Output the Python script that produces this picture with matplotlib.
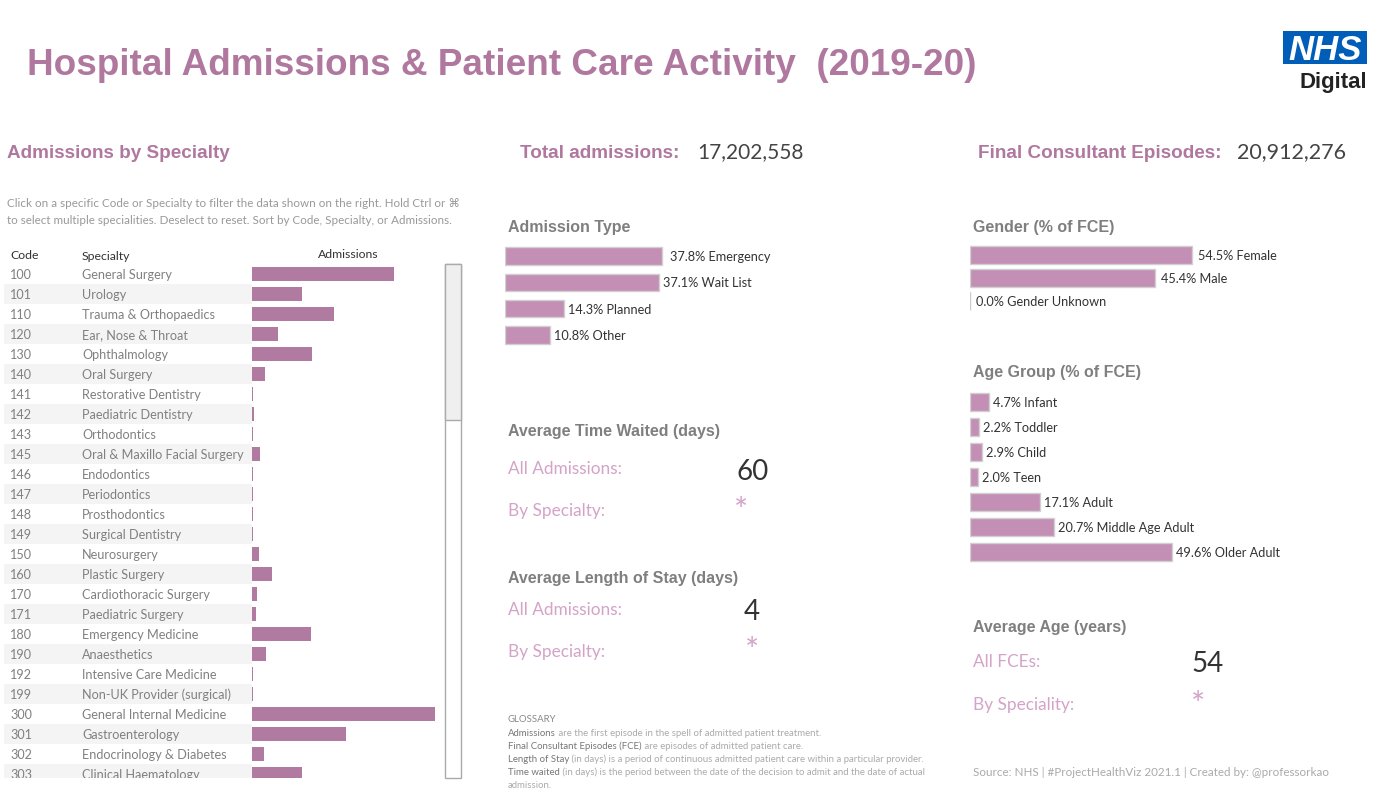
import matplotlib
matplotlib.use("Agg")
import matplotlib.pyplot as plt
from matplotlib.patches import Rectangle

W, H = 1399, 799

# ---------------- data ----------------
spec_codes = ["100", "101", "110", "120", "130", "140", "141", "142", "143", "145",
              "146", "147", "148", "149", "150", "160", "170", "171", "180", "190",
              "192", "199", "300", "301", "302", "303"]
spec_names = ["General Surgery", "Urology", "Trauma & Orthopaedics", "Ear, Nose & Throat",
              "Ophthalmology", "Oral Surgery", "Restorative Dentistry", "Paediatric Dentistry",
              "Orthodontics", "Oral & Maxillo Facial Surgery", "Endodontics", "Periodontics",
              "Prosthodontics", "Surgical Dentistry", "Neurosurgery", "Plastic Surgery",
              "Cardiothoracic Surgery", "Paediatric Surgery", "Emergency Medicine",
              "Anaesthetics", "Intensive Care Medicine", "Non-UK Provider (surgical)",
              "General Internal Medicine", "Gastroenterology", "Endocrinology & Diabetes",
              "Clinical Haematology"]
spec_admissions = [1420000, 500000, 820000, 260000, 600000, 130000, 11000, 20000,
                   10000, 80000, 9000, 10000, 10000, 10000, 70000, 200000,
                   50000, 40000, 590000, 140000, 10000, 9000, 1830000, 940000,
                   120000, 500000]

adm_types = ["Emergency", "Wait List", "Planned", "Other"]
adm_pct = [37.8, 37.1, 14.3, 10.8]

genders = ["Female", "Male", "Gender Unknown"]
gender_pct = [54.5, 45.4, 0.0]

age_groups = ["Infant", "Toddler", "Child", "Teen", "Adult", "Middle Age Adult", "Older Adult"]
age_pct = [4.7, 2.2, 2.9, 2.0, 17.1, 20.7, 49.6]

total_admissions = 17202558
total_fce = 20912276
avg_wait_days = 60
avg_stay_days = 4
avg_age_years = 54

# ---------------- styles ----------------
PINK = "#B0789F"
BAR_L = "#B07AA1"
BAR_R = "#C48FB5"
LIGHT_PINK = "#D4A3C8"
GRAY_H = "#7F7F7F"
TXT = "#808080"
DARK = "#333333"
BODY = "Lato"
HEAD = "Liberation Sans"

fig = plt.figure(figsize=(W / 100, H / 100), dpi=100)
fig.patch.set_facecolor("white")

bg = fig.add_axes([0, 0, 1, 1])
bg.set_xlim(0, W)
bg.set_ylim(H, 0)
bg.axis("off")


def px_axes(x0, y0, x1, y1):
    return fig.add_axes([x0 / W, 1 - y1 / H, (x1 - x0) / W, (y1 - y0) / H])


def T(x, y, s, size, color=DARK, weight="normal", family=BODY, ha="left", va="baseline", **kw):
    return bg.text(x, y, s, fontsize=size, color=color, fontweight=weight,
                   family=family, ha=ha, va=va, **kw)


# ---------------- title & logo ----------------
T(27, 75, "Hospital Admissions & Patient Care Activity  (2019-20)", 26.6, PINK, "bold", HEAD)

bg.add_patch(Rectangle((1283, 31), 84, 33, facecolor="#005EB8", edgecolor="none"))
T(1325, 60, "NHS", 25, "white", "bold", HEAD, ha="center", style="italic")
T(1367, 88, "Digital", 16, "#222222", "bold", HEAD, ha="right")

# ---------------- headers row ----------------
T(7, 158, "Admissions by Specialty", 13.6, PINK, "bold", HEAD)
T(520, 158, "Total admissions:", 13.6, PINK, "bold", HEAD)
T(697, 158, f"{total_admissions:,}", 15, "#444444", "normal", BODY)
T(978, 158, "Final Consultant Episodes:", 13.6, PINK, "bold", HEAD)
T(1237, 158, f"{total_fce:,}", 15.5, "#444444", "normal", BODY)

# ---------------- left table ----------------
T(7, 207, "Click on a specific Code or Specialty to filter the data shown on the right. Hold Ctrl or \u2318",
  8.35, "#999999", family=["Lato", "DejaVu Sans"])
T(7, 224, "to select multiple specialities. Deselect to reset. Sort by Code, Specialty, or Admissions.",
  8.35, "#999999")
T(10, 259, "Code", 8.8, DARK)
T(82, 260, "Specialty", 8.8, DARK)
T(348, 258, "Admissions", 8.8, DARK, ha="center")

n = len(spec_codes)
top, bottom = 264, 778
rows_visible = (bottom - top) / 20.0

tax = px_axes(4, top, 252, bottom)
tax.set_xlim(4, 252)
tax.set_ylim(-0.5 + rows_visible, -0.5)
tax.axis("off")
for i in range(n):
    if i % 2 == 1:
        tax.axhspan(i - 0.5, i + 0.5, color="#F4F4F4", lw=0)
    tax.text(10, i + 0.05, spec_codes[i], fontsize=9.1, color=TXT, family=BODY, va="center",
             clip_on=True)
    tax.text(82, i + 0.05, spec_names[i], fontsize=9.1, color=TXT, family=BODY, va="center",
             clip_on=True)

bax = px_axes(252, top, 440, bottom)
bax.barh(range(n), spec_admissions, height=0.7, color=BAR_L, lw=0)
bax.set_xlim(0, 1880000)
bax.set_ylim(-0.5 + rows_visible, -0.5)
bax.axis("off")

# scrollbar
bg.add_patch(Rectangle((445, 264), 16, 514, facecolor="white", edgecolor="#AAAAAA", lw=1))
bg.add_patch(Rectangle((445, 264), 16, 156, facecolor="#EFEFEF", edgecolor="#AAAAAA", lw=1))

# ---------------- middle column ----------------
T(508, 232, "Admission Type", 11.5, GRAY_H, "bold", HEAD)

aax = px_axes(505, 243, 900, 348)
aax.barh(range(len(adm_types)), adm_pct, height=0.66, color=BAR_R, edgecolor="#D0D0D0", lw=1)
aax.set_xlim(0, 395 / 4.15)
aax.set_ylim(3.5, -0.5)
aax.axis("off")
for i, (v, lab) in enumerate(zip(adm_pct, adm_types)):
    gap = 8 if i == 0 else 4
    aax.annotate(f"{v}% {lab}", xy=(v, i), xytext=(gap, -1), textcoords="offset pixels",
                 va="center", ha="left", fontsize=9.2, color=DARK, family=BODY)

T(508, 436, "Average Time Waited (days)", 11.5, GRAY_H, "bold", HEAD)
T(508, 474, "All Admissions:", 12.4, LIGHT_PINK)
T(736, 480, f"{avg_wait_days}", 20, DARK)
T(508, 516, "By Specialty:", 12.4, LIGHT_PINK)
T(741, 521, "*", 24, LIGHT_PINK, ha="center")

T(508, 583, "Average Length of Stay (days)", 11.5, GRAY_H, "bold", HEAD)
T(508, 615, "All Admissions:", 12.4, LIGHT_PINK)
T(752, 620, f"{avg_stay_days}", 20, DARK, ha="center")
T(508, 657, "By Specialty:", 12.4, LIGHT_PINK)
T(752, 661, "*", 24, LIGHT_PINK, ha="center")

# glossary
gx = 508
T(gx, 722, "GLOSSARY", 6.9, "#888888")
gloss = [("Admissions", " are the first episode in the spell of admitted patient treatment."),
         ("Final Consultant Episodes (FCE)", " are episodes of admitted patient care."),
         ("Length of Stay", " (in days) is a period of continuous admitted patient care within a particular provider."),
         ("Time waited", " (in days) is the period between the date of the decision to admit and the date of actual")]
for k, (b, rest) in enumerate(gloss):
    y = 736 + 13 * k
    t1 = T(gx, y, b, 6.9, "#777777")
    bg.annotate(rest, xy=(1, 0), xycoords=t1, va="bottom", ha="left",
                fontsize=6.9, color="#AAAAAA", family=BODY)
T(gx, 788, "admission.", 6.9, "#AAAAAA")

# ---------------- right column ----------------
T(973, 232, "Gender (% of FCE)", 11.5, GRAY_H, "bold", HEAD)
gax = px_axes(970, 243.5, 1390, 312.5)
gax.barh(range(len(genders)), gender_pct, height=0.74, color=BAR_R, edgecolor="#D0D0D0", lw=1)
gax.set_xlim(0, 420 / 4.07)
gax.set_ylim(2.5, -0.5)
gax.axis("off")
for i, (v, lab) in enumerate(zip(gender_pct, genders)):
    gax.annotate(f"{v:.1f}% {lab}", xy=(v, i), xytext=(6, -1), textcoords="offset pixels",
                 va="center", ha="left", fontsize=9.2, color=DARK, family=BODY)
gax.plot([0.1, 0.1], [1.64, 2.36], color="#CCCCCC", lw=1.2)

T(973, 377, "Age Group (% of FCE)", 11.5, GRAY_H, "bold", HEAD)
ageax = px_axes(970, 389.5, 1390, 564.5)
ageax.barh(range(len(age_groups)), age_pct, height=0.74, color=BAR_R, edgecolor="#D0D0D0", lw=1)
ageax.set_xlim(0, 420 / 4.07)
ageax.set_ylim(6.5, -0.5)
ageax.axis("off")
for i, (v, lab) in enumerate(zip(age_pct, age_groups)):
    ageax.annotate(f"{v}% {lab}", xy=(v, i), xytext=(4, -1), textcoords="offset pixels",
                   va="center", ha="left", fontsize=9.2, color=DARK, family=BODY)

T(973, 632, "Average Age (years)", 11.5, GRAY_H, "bold", HEAD)
T(973, 667, "All FCEs:", 12.4, LIGHT_PINK)
T(1191, 672, f"{avg_age_years}", 20, DARK)
T(973, 710, "By Speciality:", 12.4, LIGHT_PINK)
T(1198, 715, "*", 24, LIGHT_PINK, ha="center")

T(973, 776, "Source: NHS | #ProjectHealthViz 2021.1 | Created by: @professorkao", 8.4, "#AAAAAA")

fig.savefig("out.png", dpi=100, facecolor="white")
